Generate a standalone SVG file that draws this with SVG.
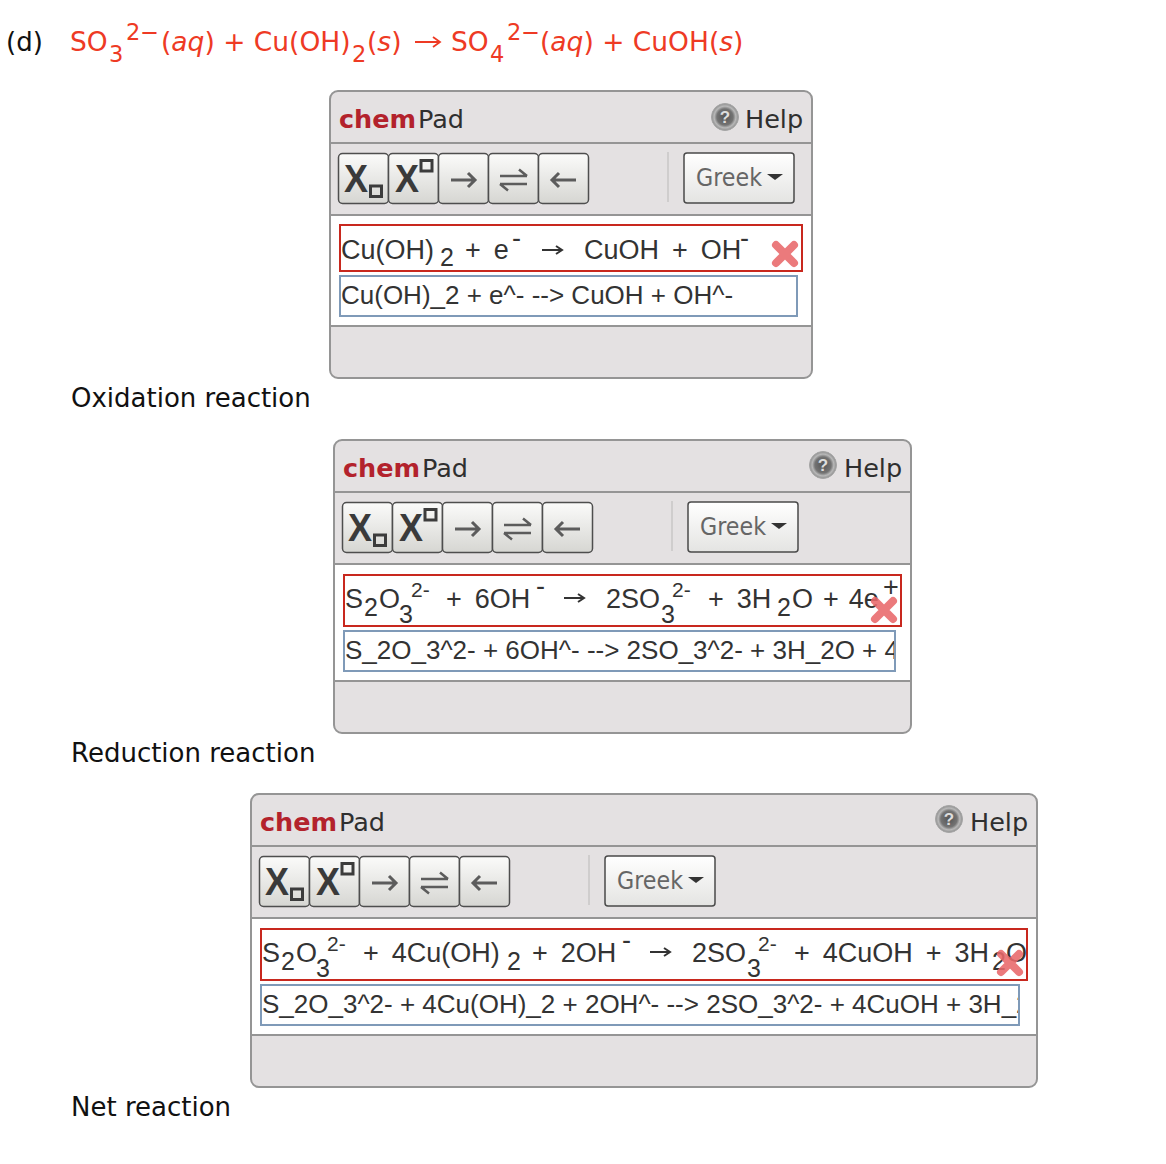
<svg xmlns="http://www.w3.org/2000/svg" width="1166" height="1164" viewBox="0 0 1166 1164">
<defs>
<linearGradient id="btn" x1="0" y1="0" x2="0" y2="1"><stop offset="0" stop-color="#fbfbfa"/><stop offset="1" stop-color="#d6d6d2"/></linearGradient>
<linearGradient id="gbtn" x1="0" y1="0" x2="0" y2="1"><stop offset="0" stop-color="#ffffff"/><stop offset="1" stop-color="#e4e4e2"/></linearGradient>
<radialGradient id="hlp" cx="0.5" cy="0.5" r="0.5"><stop offset="0" stop-color="#555"/><stop offset="0.6" stop-color="#737373"/><stop offset="0.8" stop-color="#b8b8b8"/><stop offset="1" stop-color="#8e8e8e"/></radialGradient>
<g id="toolbtns">
<rect class="btn" x="0.5" y="0.5" width="50" height="50" rx="4"/>
<rect class="btn" x="50.5" y="0.5" width="50" height="50" rx="4"/>
<rect class="btn" x="100.5" y="0.5" width="50" height="50" rx="4"/>
<rect class="btn" x="150.5" y="0.5" width="50" height="50" rx="4"/>
<rect class="btn" x="200.5" y="0.5" width="50" height="50" rx="4"/>
<rect class="sq" x="32.500" y="33" width="11" height="10.500"/>
<rect class="sq" x="83" y="7.500" width="11" height="10.500"/>
<path class="arr" d="M113 27H137M130 20L137 27L130 34"/>
<path class="arr2" d="M162 23H189M181 16.500L189 23M162 31H189M170 37.500L162 31"/>
<path class="arr" d="M238 27H214M221 20L214 27L221 34"/>
</g>
<g id="cross"><path d="M-9 -9L9 9M9 -9L-9 9" fill="none" stroke="#e8686a" stroke-width="8" stroke-linecap="round" opacity="0.88"/></g>
<g id="helpicon"><circle r="13.500" fill="url(#hlp)" stroke="#a5a5a5" stroke-width="1"/></g>
</defs>
<style>
text{font-family:"DejaVu Sans",sans-serif}
.h{font-size:26px;fill:#111}
.r{font-size:26.500px;fill:#ee3a24}
.rs{font-size:22.500px;fill:#ee3a24}
.i{font-style:italic}
.panel{fill:#e4e1e2;stroke:#959595;stroke-width:2}
.ln{stroke:#959595;stroke-width:2;fill:none}
.white{fill:#fff}
.btn{fill:url(#btn);stroke:#4e4e4e;stroke-width:1.500}
.gb{fill:url(#gbtn);stroke:#4a4a4a;stroke-width:1.500}
.sq{fill:none;stroke:#3c3c3c;stroke-width:3}
.arr{fill:none;stroke:#5c5c5c;stroke-width:3}
.arr2{fill:none;stroke:#5c5c5c;stroke-width:2.500}
.xb{font-family:"Liberation Sans",sans-serif;font-weight:700;font-size:39px;fill:#3a3a3a}
.greek{font-size:24px;fill:#666}
.tri{fill:#333}
.sep{stroke:#cfcdcd;stroke-width:2}
.chem{font-weight:700;font-size:25.500px;fill:#b3222c}
.pad{font-size:25.500px;fill:#2f2f2f}
.qm{font-family:"Liberation Sans",sans-serif;font-weight:700;font-size:17px;fill:#ddd;text-anchor:middle}
.bad{fill:#fff;stroke:#c8281e;stroke-width:2}
.inp{fill:#fff;stroke:#7f9ab8;stroke-width:2}
.eqb{font-family:"Liberation Sans",sans-serif;font-size:27px;fill:#333;word-spacing:5.500px}
.sb{font-family:"Liberation Sans",sans-serif;font-size:25px;fill:#333}
.sp{font-family:"Liberation Sans",sans-serif;font-size:21px;fill:#333}
.raw{font-family:"Liberation Sans",sans-serif;font-size:26px;fill:#333}
.ar{fill:none;stroke:#333;stroke-width:2}
</style>

<g id="question">
<text class="h" x="6" y="51">(d)</text>
<text class="r" x="70" y="51">SO</text>
<text class="rs" x="109" y="62">3</text>
<text class="rs" x="126" y="40">2−</text>
<text class="r" x="161" y="51">(<tspan class="i">aq</tspan>) + Cu(OH)</text>
<text class="rs" x="352" y="62">2</text>
<text class="r" x="367" y="51">(<tspan class="i">s</tspan>)</text>
<path d="M415 42H440M433 37L440 42L433 47" fill="none" stroke="#ee3a24" stroke-width="1.800"/>
<text class="r" x="451" y="51">SO</text>
<text class="rs" x="490" y="62">4</text>
<text class="rs" x="507" y="40">2−</text>
<text class="r" x="540" y="51">(<tspan class="i">aq</tspan>) + CuOH(<tspan class="i">s</tspan>)</text>
</g>

<g id="chempad-oxidation" transform="translate(330,91)">
<rect class="panel" x="0" y="0" width="482" height="287" rx="8"/>
<rect class="white" x="1" y="125" width="480" height="110"/>
<path class="ln" d="M0 52H482M0 124H482M0 235H482"/>
<text class="chem" x="9" y="37">chem</text><text class="pad" x="88" y="37">Pad</text>
<use href="#helpicon" x="395" y="26"/><text class="qm" x="395" y="32">?</text>
<text class="pad" x="415" y="37">Help</text>
<g transform="translate(8,62)"><use href="#toolbtns"/><text class="xb" x="6" y="39" textLength="24" lengthAdjust="spacingAndGlyphs">X</text><text class="xb" x="57" y="39" textLength="24" lengthAdjust="spacingAndGlyphs">X</text></g>
<path class="sep" d="M338 61V111"/>
<rect class="gb" x="354" y="62" width="110" height="50" rx="3"/>
<text class="greek" x="366" y="95" textLength="66" lengthAdjust="spacingAndGlyphs">Greek</text>
<path class="tri" d="M437 83H453L445 89Z"/>
<rect class="bad" x="10" y="134" width="462" height="46"/>
<text class="eqb" x="11" y="168">Cu(OH)</text><text class="sb" x="110" y="175">2</text>
<text class="eqb" x="135" y="168">+ e</text><text class="eqb" x="182" y="156">-</text>
<path class="ar" d="M212 159H232M226 155L232 159L226 163"/>
<text class="eqb" x="254" y="168">CuOH + OH</text><text class="eqb" x="410" y="156">-</text>
<use href="#cross" x="455" y="163"/>
<rect class="inp" x="10" y="185" width="457" height="40"/>
<text class="raw" x="11" y="213">Cu(OH)_2 + e^- --&gt; CuOH + OH^-</text>
</g>
<text class="h" x="71" y="407">Oxidation reaction</text>

<g id="chempad-reduction" transform="translate(334,440)">
<rect class="panel" x="0" y="0" width="577" height="293" rx="8"/>
<rect class="white" x="1" y="125" width="575" height="116"/>
<path class="ln" d="M0 52H577M0 124H577M0 241H577"/>
<text class="chem" x="9" y="37">chem</text><text class="pad" x="88" y="37">Pad</text>
<use href="#helpicon" x="489" y="25"/><text class="qm" x="489" y="31">?</text>
<text class="pad" x="510" y="37">Help</text>
<g transform="translate(8,62)"><use href="#toolbtns"/><text class="xb" x="6" y="39" textLength="24" lengthAdjust="spacingAndGlyphs">X</text><text class="xb" x="57" y="39" textLength="24" lengthAdjust="spacingAndGlyphs">X</text></g>
<path class="sep" d="M338 61V111"/>
<rect class="gb" x="354" y="62" width="110" height="50" rx="3"/>
<text class="greek" x="366" y="95" textLength="66" lengthAdjust="spacingAndGlyphs">Greek</text>
<path class="tri" d="M437 83H453L445 89Z"/>
<rect class="bad" x="10" y="135" width="557" height="51"/>
<text class="eqb" x="11" y="168">S</text><text class="sb" x="30" y="176">2</text><text class="eqb" x="45" y="168">O</text><text class="sb" x="65" y="183">3</text><text class="sp" x="77" y="157">2-</text>
<text class="eqb" x="112" y="168">+ 6OH</text><text class="eqb" x="202" y="155">-</text>
<path class="ar" d="M230 158H250M244 154L250 158L244 162"/>
<text class="eqb" x="272" y="168">2SO</text><text class="sb" x="327" y="183">3</text><text class="sp" x="338" y="157">2-</text>
<text class="eqb" x="374" y="168">+ 3H</text><text class="sb" x="443" y="176">2</text><text class="eqb" style="word-spacing:2.500px" x="458" y="168">O + 4e</text><text class="eqb" x="549" y="156">+</text>
<use href="#cross" x="550" y="170"/>
<rect class="inp" x="10" y="191" width="551" height="40"/>
<svg x="10" y="191" width="550" height="40" viewBox="0 0 550 40"><text class="raw" x="1" y="28">S_2O_3^2- + 6OH^- --&gt; 2SO_3^2- + 3H_2O + 4</text></svg>
</g>
<text class="h" x="71" y="762">Reduction reaction</text>

<g id="chempad-net" transform="translate(251,794)">
<rect class="panel" x="0" y="0" width="786" height="293" rx="8"/>
<rect class="white" x="1" y="125" width="784" height="116"/>
<path class="ln" d="M0 52H786M0 124H786M0 241H786"/>
<text class="chem" x="9" y="37">chem</text><text class="pad" x="88" y="37">Pad</text>
<use href="#helpicon" x="698" y="25"/><text class="qm" x="698" y="31">?</text>
<text class="pad" x="719" y="37">Help</text>
<g transform="translate(8,62)"><use href="#toolbtns"/><text class="xb" x="6" y="39" textLength="24" lengthAdjust="spacingAndGlyphs">X</text><text class="xb" x="57" y="39" textLength="24" lengthAdjust="spacingAndGlyphs">X</text></g>
<path class="sep" d="M338 61V111"/>
<rect class="gb" x="354" y="62" width="110" height="50" rx="3"/>
<text class="greek" x="366" y="95" textLength="66" lengthAdjust="spacingAndGlyphs">Greek</text>
<path class="tri" d="M437 83H453L445 89Z"/>
<rect class="bad" x="10" y="135" width="766" height="51"/>
<text class="eqb" x="11" y="168">S</text><text class="sb" x="30" y="176">2</text><text class="eqb" x="45" y="168">O</text><text class="sb" x="65" y="183">3</text><text class="sp" x="76" y="157">2-</text>
<text class="eqb" x="112" y="168">+ 4Cu(OH)</text><text class="sb" x="256" y="176">2</text>
<text class="eqb" x="281" y="168">+ 2OH</text><text class="eqb" x="371" y="155">-</text>
<path class="ar" d="M399 158H419M413 154L419 158L413 162"/>
<text class="eqb" x="441" y="168">2SO</text><text class="sb" x="496" y="183">3</text><text class="sp" x="507" y="157">2-</text>
<text class="eqb" x="543" y="168">+ 4CuOH + 3H</text><text class="sb" x="741" y="176">2</text><text class="eqb" x="755" y="168">O</text>
<use href="#cross" x="759" y="169"/>
<rect class="inp" x="10" y="191" width="758" height="40"/>
<svg x="10" y="191" width="757" height="40" viewBox="0 0 757 40"><text class="raw" x="1" y="28">S_2O_3^2- + 4Cu(OH)_2 + 2OH^- --&gt; 2SO_3^2- + 4CuOH + 3H_2</text></svg>
</g>
<text class="h" x="71" y="1116">Net reaction</text>
</svg>
